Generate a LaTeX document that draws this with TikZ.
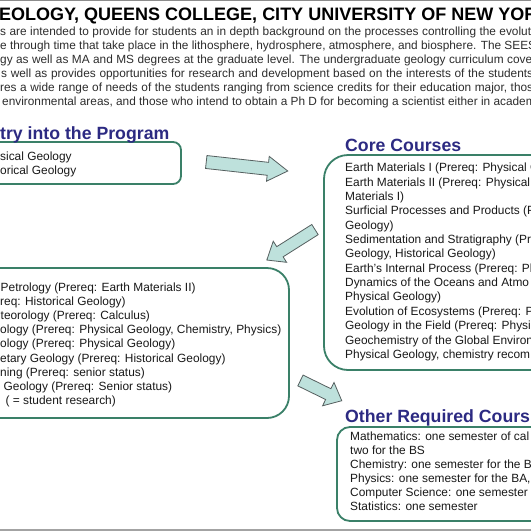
\documentclass[tikz,border=0pt]{standalone}
\usepackage{fontspec}
\setmainfont{Liberation Sans}
\definecolor{boxline}{RGB}{58,128,104}
\definecolor{headblue}{RGB}{44,42,130}
\definecolor{arrowfill}{RGB}{190,225,220}
\definecolor{arrowline}{RGB}{85,95,95}
\definecolor{bodytext}{RGB}{25,25,25}
\definecolor{paratext}{RGB}{45,45,45}
\definecolor{rulegray}{RGB}{140,140,140}
\begin{document}
\begin{tikzpicture}[x=1pt,y=-1pt,
  txt/.style={anchor=base west, inner sep=0pt, font=\fontsize{11.9}{14}\selectfont, text=bodytext},
  para/.style={anchor=base west, inner sep=0pt, font=\fontsize{11.85}{14}\selectfont, text=paratext},
  heading/.style={anchor=base west, inner sep=0pt, font=\bfseries\fontsize{17.7}{20}\selectfont, text=headblue},
  maintitle/.style={anchor=base west, inner sep=0pt, font=\bfseries\fontsize{18}{20}\selectfont, text=black},
  box/.style={draw=boxline, line width=1.8pt, fill=white, inner sep=0pt},
  blockarrow/.style={fill=arrowfill, draw=arrowline, line width=0.8pt, line join=miter}]
\useasboundingbox (0,0) rectangle (531,531);
\fill[white] (0,0) rectangle (531,531);
\clip (0,0) rectangle (531,531);
% rules
\draw[rulegray, line width=1.5pt] (0,0.5) -- (531,0.5);
\draw[rulegray!80, line width=1.2pt] (0,530) -- (531,530);
% title and paragraph (justified lines)
\node[maintitle] (title) at (-1,20) {EOLOGY, QUEENS COLLEGE, CITY UNIVERSITY OF NEW YOR};
\node[para] (p1) at (0,35) {\makebox[531pt][s]{s are intended to provide for students an in depth background on the processes controlling the evolut}};
\node[para] (p2) at (0,49) {e through time that take place in the lithosphere, hydrosphere, atmosphere, and biosphere. The SEES};
\node[para] (p3) at (0,63) {\makebox[532pt][s]{gy as well as MA and MS degrees at the graduate level. The undergraduate geology curriculum cove}};
\node[para] (p4) at (1,77) {\makebox[532pt][s]{s well as provides opportunities for research and development based on the interests of the students}};
\node[para] (p5) at (0,91) {\makebox[533pt][s]{res a wide range of needs of the students ranging from science credits for their education major, thos}};
\node[para] (p6) at (2,105) {environmental areas, and those who intend to obtain a Ph D for becoming a scientist either in academ};
% boxes
\node[box, rounded corners=8pt, minimum width=211pt, minimum height=42pt] (entry) at (75.5,163) {};
\node[box, rounded corners=24pt, minimum width=240pt, minimum height=215pt] (core) at (444,262.5) {};
\node[box, rounded corners=22pt, minimum width=319pt, minimum height=150pt] (electives) at (129.5,343) {};
\node[box, rounded corners=13pt, minimum width=230pt, minimum height=94pt] (other) at (452,474) {};
% headings
\node[heading] (h1) at (0,139.5) {try into the Program};
\node[heading] (h2) at (345,151) {Core Courses};
\node[heading] (h3) at (345,422.5) {Other Required Cours};
% entry text
\node[txt] (e1) at (0,160.5) {sical Geology};
\node[txt] (e2) at (0,174.5) {orical Geology};
% core text
\foreach \t [count=\i from 0] in {{Earth Materials I (Prereq: Physical G},{Earth Materials II (Prereq: Physical},{Materials I)},{Surficial Processes and Products (P},{Geology)},{Sedimentation and Stratigraphy (Pr},{Geology, Historical Geology)},{Earth’s Internal Process (Prereq: Ph},{Dynamics of the Oceans and Atmo},{Physical Geology)},{Evolution of Ecosystems (Prereq: P},{Geology in the Field (Prereq: Physi},{Geochemistry of the Global Environ},{Physical Geology, chemistry recom}}
  \node[txt] (c\i) at (345,171.8+\i*14.35) {\t};
% elective text
\node[txt] (l0) at (0.5,291) {Petrology (Prereq: Earth Materials II)};
\node[txt] (l1) at (0,305.2) {req: Historical Geology)};
\node[txt] (l2) at (0.5,319.4) {teorology (Prereq: Calculus)};
\node[txt] (l3) at (0,333.6) {ology (Prereq: Physical Geology, Chemistry, Physics)};
\node[txt] (l4) at (0,347.8) {ology (Prereq: Physical Geology)};
\node[txt] (l5) at (0,362) {etary Geology (Prereq: Historical Geology)};
\node[txt] (l6) at (0,376.2) {ning (Prereq: senior status)};
\node[txt] (l7) at (3.5,390.4) {Geology (Prereq: Senior status)};
\node[txt] (l8) at (5.5,404.6) {( = student research)};
% other text
\foreach \t [count=\i from 0] in {{Mathematics: one semester of cal},{two for the BS},{Chemistry: one semester for the B},{Physics: one semester for the BA,},{Computer Science: one semester},{Statistics: one semester}}
  \node[txt] (o\i) at (350,440+\i*14) {\t};
% block arrows
\begin{scope}[shift={(247,166.5)}, rotate=-6.3]
  \draw[blockarrow] (-41,-6.5) -- (21,-6.5) -- (21,-12.5) -- (41,0) -- (21,12.5) -- (21,6.5) -- (-41,6.5) -- cycle;
\end{scope}
\begin{scope}[shift={(290.9,244.8)}, rotate=212.3]
  \draw[blockarrow] (-28.5,-6) -- (13,-6) -- (13,-12.5) -- (28.5,0) -- (13,12.5) -- (13,6) -- (-28.5,6) -- cycle;
\end{scope}
\begin{scope}[shift={(321.1,390.6)}, rotate=-26.1]
  \draw[blockarrow] (-23,-6) -- (8,-6) -- (8,-13) -- (23,0) -- (8,13) -- (8,6) -- (-23,6) -- cycle;
\end{scope}
\end{tikzpicture}
\end{document}
